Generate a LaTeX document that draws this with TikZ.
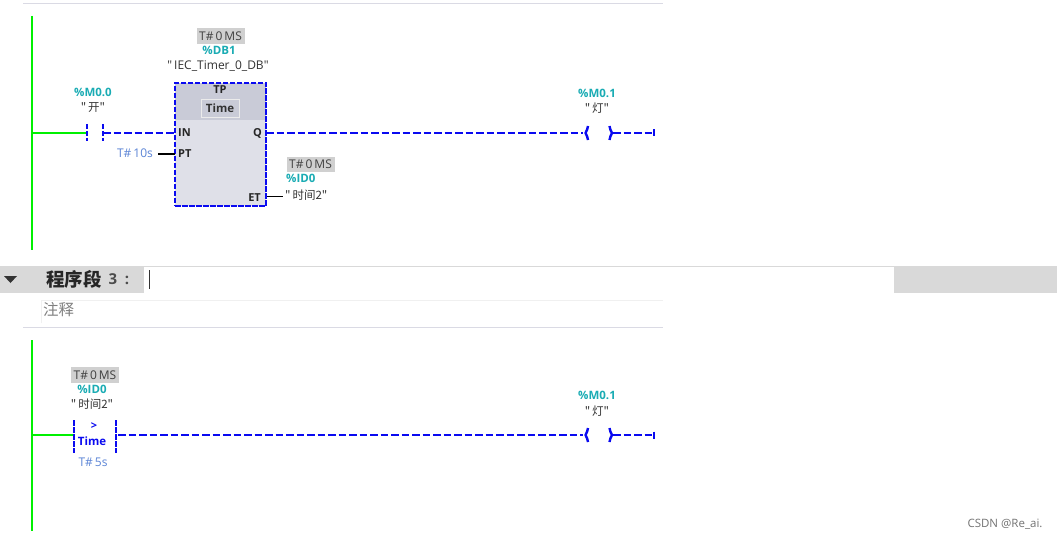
\documentclass[tikz,border=0pt]{standalone}
\usepackage{fontspec}
\setmainfont{Open Sans}
\newfontfamily\cjk{Noto Sans CJK SC}
\newcommand{\qq}{{\addfontfeature{Mapping=}\symbol{34}}}
\definecolor{railg}{HTML}{00F000}
\definecolor{flow}{HTML}{0A0AF0}
\definecolor{tealt}{HTML}{1AACB4}
\definecolor{constb}{HTML}{5B84D6}
\definecolor{hdr}{HTML}{C9CBD7}
\definecolor{bodyc}{HTML}{DFE0E8}
\definecolor{grayb}{HTML}{D0D0D0}
\definecolor{band}{HTML}{D9D9D9}
\definecolor{sep}{HTML}{DADAE4}
\tikzset{
 lbl/.style={inner sep=0pt,font=\fontsize{12}{14}\selectfont,text=black!80},
 clbl/.style={inner sep=0pt,font=\cjk\fontsize{11.5}{13}\selectfont,text=black!80},
 addr/.style={inner sep=0pt,font=\fontsize{11.5}{13}\selectfont\bfseries,text=tealt},
 pin/.style={inner sep=0pt,font=\fontsize{11}{13}\selectfont\bfseries,text=black!85},
 cval/.style={inner sep=0pt,font=\fontsize{12}{14}\selectfont,text=constb},
 grayv/.style={inner sep=0pt,fill=grayb,text=black!75,font=\fontsize{12}{14}\selectfont,minimum height=16pt,minimum width=48pt},
 rail/.style={draw=railg,line width=2.8pt},
 live/.style={draw=railg,line width=2.6pt},
 wire/.style={draw=flow,line width=2.6pt,dash pattern=on 7.5pt off 3pt},
 bar/.style={draw=flow,line width=2.6pt,dash pattern=on 5.5pt off 1.5pt},
 thin/.style={draw=flow,line width=1.4pt,dash pattern=on 5.5pt off 1.5pt},
 blk/.style={draw=black,line width=1.6pt},
 sepl/.style={draw=sep,line width=1pt}
}
\newcommand{\coilat}[2]{%
 \draw[flow,line width=2.4pt,line join=round] (#1-3,#2-7) to[out=-100,in=60] (#1-5.5,#2) to[out=-60,in=100] (#1-3,#2+7);
 \draw[flow,line width=2.4pt,line join=round] (#1+18.5,#2-7) to[out=-80,in=120] (#1+21,#2) to[out=-120,in=80] (#1+18.5,#2+7);
}
\begin{document}
\begin{tikzpicture}[x=1pt,y=-1pt]
\useasboundingbox (0,0) rectangle (1057,540);
\fill[white] (0,0) rectangle (1057,540);
% separators and header
\draw[sepl] (23,3.5) -- (663,3.5);
\draw[draw=black!15,line width=1pt] (0,266.5) -- (1057,266.5);
\fill[band] (0,267) rectangle (144,293);
\fill[band] (894,267) rectangle (1057,293);
\fill[black!80] (4,276) -- (17,276) -- (10.5,283) -- cycle;
\node[inner sep=0pt,anchor=west,font=\cjk\fontsize{18.5}{20}\selectfont\bfseries,text=black!85] (hd) at (46,279) {程序段};
\node[inner sep=0pt,anchor=center,font=\fontsize{15}{17}\selectfont\bfseries,text=black!70] (hn) at (113,279) {3};
\node[inner sep=0pt,anchor=center,font=\fontsize{15}{17}\selectfont\bfseries,text=black!70] (hc) at (127,280) {:};
\draw[black!80,line width=1pt] (149,270) -- (149,289);
\draw[black!6,line width=1pt] (41,323) -- (41,300) -- (663,300);
\node[inner sep=0pt,anchor=west,font=\cjk\fontsize{15.5}{17}\selectfont,text=black!50] (cm) at (43,310) {注释};
\draw[sepl] (23,327.5) -- (663,327.5);
% network 1
\draw[rail] (32,16) -- (32,250);
\coordinate (n1) at (32,133);
\coordinate (c1a) at (87,133);
\coordinate (c1b) at (103,133);
\draw[live] (n1) -- (c1a);
\draw[bar] (87,124) -- (87,141);
\draw[bar] (103,124) -- (103,141);
\node[addr] (m00) at (93,92.5) {\%M0.0};
\node[clbl] (kai) at (93,108) {\qq\,开\qq};
% timer box
\fill[bodyc] (175,83) rectangle (266,206);
\fill[hdr] (175,83) rectangle (266,120);
\node[draw=black!8,fill=hdr,minimum width=38pt,minimum height=18pt,inner sep=0pt,font=\fontsize{11.5}{13}\selectfont\bfseries,text=black!80] (time) at (220,108) {Time};
\node[draw=flow,line width=2.6pt,dash pattern=on 5.5pt off 1.5pt,minimum width=91pt,minimum height=123pt,inner sep=0pt] (tp) at (220.5,144.5) {};
\node[pin] (tpl) at (220,90) {TP};
\node[pin,anchor=west] (in) at (178,133) {IN};
\node[pin,anchor=east] (q) at (262,133) {Q};
\node[pin,anchor=west] (pt) at (178,154) {PT};
\node[pin,anchor=east] (et) at (261,198) {ET};
\coordinate (tpin) at (175,133);
\coordinate (tpq) at (266,133);
\coordinate (tppt) at (175,154);
\coordinate (tpet) at (267,197);
\draw[wire] (c1b) -- (tpin);
\node[grayv] (db0) at (220.5,36) {T\#\,0\,MS};
\node[addr] (db1) at (219,50.5) {\%DB1};
\node[lbl] (dbn) at (218,66) {\qq\,IEC\_Timer\_0\_DB\qq};
\node[cval] (t10) at (135,153) {T\#\,10s};
\coordinate (t10e) at (158,154);
\draw[blk] (t10e) -- (tppt);
\node[grayv,minimum height=15pt] (et0) at (310.5,164.5) {T\#\,0\,MS};
\node[addr,anchor=west] (id0a) at (286,178) {\%ID0};
\node[clbl,anchor=west] (sj1) at (285,195) {\qq\,时间2\qq};
\coordinate (ete) at (283,197);
\draw[draw=black,line width=1pt] (tpet) -- (ete);
% coil 1
\coordinate (c2a) at (583,133);
\coordinate (c2b) at (613,133);
\coordinate (c2e) at (654,133);
\draw[wire] (tpq) -- (c2a);
\coilat{591}{133}
\draw[wire] (c2b) -- (c2e);
\draw[flow,line width=1.2pt] (654,129.5) -- (654,136.5);
\node[addr] (m01a) at (597,93) {\%M0.1};
\node[clbl] (d1) at (597,108) {\qq\,灯\qq};
% network 2
\draw[rail] (32,340) -- (32,531);
\coordinate (n2) at (32,435);
\coordinate (cmpl) at (74,435);
\coordinate (cmpr) at (118,435);
\draw[live] (n2) -- (cmpl);
\draw[thin] (74,420) -- (74,453);
\draw[bar] (116,420) -- (116,453);
\node[grayv] (g2) at (95,375) {T\#\,0\,MS};
\node[addr] (id0b) at (92,389) {\%ID0};
\node[clbl] (sj2) at (92,404) {\qq\,时间2\qq};
\node[inner sep=0pt,font=\fontsize{11}{13}\selectfont\bfseries,text=flow] (gt) at (94,426) {>};
\node[inner sep=0pt,font=\fontsize{11.5}{13}\selectfont\bfseries,text=flow] (tm2) at (92,441) {Time};
\node[cval] (t5) at (93,462) {T\#\,5s};
\coordinate (c3a) at (583,435);
\coordinate (c3b) at (613,435);
\coordinate (c3e) at (654,435);
\draw[wire] (cmpr) -- (c3a);
\coilat{591}{435}
\draw[wire] (c3b) -- (c3e);
\draw[flow,line width=1.2pt] (654,431.5) -- (654,438.5);
\node[addr] (m01b) at (597,395.5) {\%M0.1};
\node[clbl] (d2) at (597,411) {\qq\,灯\qq};
\node[inner sep=0pt,font=\fontsize{11.5}{13}\selectfont,text=black!55] (wm) at (1005,524) {CSDN @Re\_ai.};
\end{tikzpicture}
\end{document}
